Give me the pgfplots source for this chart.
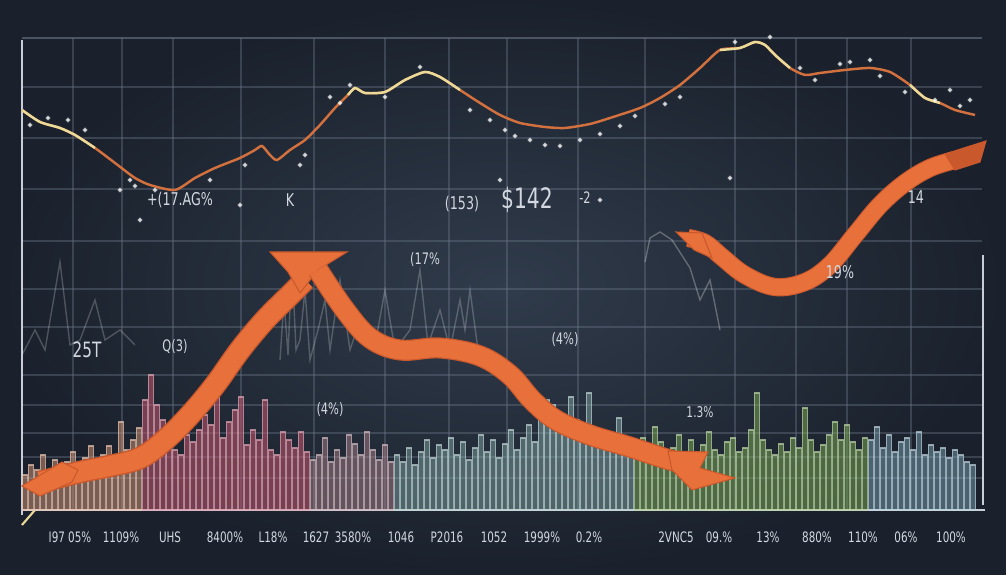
\documentclass[border=0pt]{standalone}
\usepackage{pgfplots}
\pgfplotsset{compat=1.18}
\usepackage{fontspec}
\setmainfont{DejaVu Sans}[FakeStretch=0.85]
\newfontfamily\labfont{DejaVu Sans}[FakeStretch=0.72]
\definecolor{bgin}{HTML}{303B4B}
\definecolor{bgout}{HTML}{1A212C}
\definecolor{gridc}{HTML}{6A7586}
\definecolor{axc}{HTML}{C9CED6}
\definecolor{labc}{HTML}{D3D8E0}
\definecolor{rib}{HTML}{E8703A}
\definecolor{ribd}{HTML}{C9582C}
\definecolor{cream}{HTML}{EADB9A}
\definecolor{lineor}{HTML}{D2703E}
\definecolor{peach}{HTML}{D99A78}
\definecolor{redb}{HTML}{C4566F}
\definecolor{mauve}{HTML}{A98089}
\definecolor{teal}{HTML}{88B0AE}
\definecolor{greenb}{HTML}{7FAE55}
\definecolor{blueb}{HTML}{86B0C2}
\begin{document}
\begin{tikzpicture}
\begin{axis}[
  scale only axis, width=10.06cm, height=5.75cm,
  xmin=0, xmax=1006, ymin=-65, ymax=510,
  axis line style={draw=none}, xtick=\empty, ytick=\empty,
  axis background/.style={inner color=bgin, outer color=bgout},
  clip=true,
]
% grid
\pgfplotsinvokeforeach{73,122,173,241,314,385,449,507,578,645,735,796,847,911}{
  \addplot[gridc, line width=0.3pt, opacity=0.4, forget plot] coordinates {(#1,0) (#1,472)};
}
\pgfplotsinvokeforeach{423,372,321,269,221,183,135,105,77,53,32}{
  \addplot[gridc, line width=0.3pt, opacity=0.4, forget plot] coordinates {(22,#1) (982,#1)};
}
\addplot[gridc, line width=0.3pt, opacity=0.6] coordinates {(22,472) (982,472)};
% faint spiky traces
\addplot[white, opacity=0.22, line width=0.4pt] table[row sep=\\, x=px, y expr=510-\thisrow{py}] {
px py\\ 280 360\\ 284 300\\ 288 355\\ 292 262\\ 296 350\\ 300 340\\ 305 290\\ 310 360\\ 318 330\\ 325 300\\ 330 350\\ 340 280\\ 350 350\\ 360 320\\ 375 345\\ 385 290\\ 395 350\\ 410 330\\ 420 270\\ 428 345\\ 440 310\\ 450 350\\ 460 300\\ 465 330\\ 470 290\\ 478 350\\};
\addplot[white, opacity=0.22, line width=0.4pt] table[row sep=\\, x=px, y expr=510-\thisrow{py}] {
px py\\ 22 355\\ 35 330\\ 45 350\\ 60 262\\ 70 345\\ 80 340\\ 95 300\\ 105 340\\ 120 330\\ 135 345\\};
\addplot[white, opacity=0.28, line width=0.4pt] table[row sep=\\, x=px, y expr=510-\thisrow{py}] {
px py\\ 645 262\\ 650 238\\ 660 232\\ 672 240\\ 690 268\\ 700 300\\ 710 280\\ 720 330\\};
% axes lines
\addplot[axc, line width=0.5pt] coordinates {(22,-5) (22,470)};
\addplot[axc, line width=0.5pt] coordinates {(22,0) (985,0)};
\addplot[axc, line width=0.5pt] coordinates {(983,5) (983,255)};
\addplot[cream, line width=0.6pt] coordinates {(22,-15) (35,0)};
% bars
\addplot[ybar, bar width=5, bar shift=0pt, fill=peach, fill opacity=0.5, draw=peach!55!white, draw opacity=0.7, line width=0.3pt] table[row sep=\\] {
x h\\ 25 35\\ 31 45\\ 37 40\\ 43 55\\ 49 38\\ 55 50\\ 61 42\\ 67 48\\ 73 58\\ 79 44\\ 85 52\\ 91 64\\ 97 47\\ 103 55\\ 109 64\\ 115 50\\ 121 88\\ 127 60\\ 133 70\\ 139 82\\};
\addplot[ybar, bar width=5, bar shift=0pt, fill=redb, fill opacity=0.55, draw=redb!50!white, draw opacity=0.7, line width=0.3pt] table[row sep=\\] {
x h\\ 145 110\\ 151 135\\ 157 105\\ 163 90\\ 169 70\\ 175 60\\ 181 55\\ 187 75\\ 193 68\\ 199 80\\ 205 95\\ 211 85\\ 217 120\\ 223 72\\ 229 88\\ 235 100\\ 241 113\\ 247 65\\ 253 80\\ 259 70\\ 265 110\\ 271 60\\ 277 55\\ 283 78\\ 289 70\\ 295 62\\ 301 78\\ 307 58\\};
\addplot[ybar, bar width=5, bar shift=0pt, fill=mauve, fill opacity=0.5, draw=mauve!50!white, draw opacity=0.7, line width=0.3pt] table[row sep=\\] {
x h\\ 313 50\\ 319 55\\ 325 72\\ 331 48\\ 337 60\\ 343 52\\ 349 75\\ 355 66\\ 361 55\\ 367 78\\ 373 60\\ 379 50\\ 385 65\\ 391 48\\};
\addplot[ybar, bar width=5, bar shift=0pt, fill=teal, fill opacity=0.45, draw=teal!50!white, draw opacity=0.7, line width=0.3pt] table[row sep=\\] {
x h\\ 397 55\\ 403 48\\ 409 62\\ 415 45\\ 421 58\\ 427 70\\ 433 52\\ 439 65\\ 445 60\\ 451 72\\ 457 55\\ 463 68\\ 469 50\\ 475 62\\ 481 75\\ 487 58\\ 493 70\\ 499 52\\ 505 66\\ 511 80\\ 517 60\\ 523 72\\ 529 85\\ 535 68\\ 541 95\\ 547 110\\ 553 105\\ 559 88\\ 565 75\\ 571 113\\ 577 90\\ 583 70\\ 589 117\\ 595 65\\ 601 80\\ 607 72\\ 613 60\\ 619 92\\ 625 70\\ 631 58\\};
\addplot[ybar, bar width=5, bar shift=0pt, fill=greenb, fill opacity=0.5, draw=greenb!50!white, draw opacity=0.7, line width=0.3pt] table[row sep=\\] {
x h\\ 637 60\\ 643 72\\ 649 55\\ 655 83\\ 661 68\\ 667 50\\ 673 62\\ 679 75\\ 685 58\\ 691 70\\ 697 52\\ 703 65\\ 709 78\\ 715 60\\ 721 55\\ 727 68\\ 733 72\\ 739 58\\ 745 62\\ 751 80\\ 757 117\\ 763 70\\ 769 60\\ 775 55\\ 781 66\\ 787 58\\ 793 72\\ 799 62\\ 805 102\\ 811 70\\ 817 58\\ 823 65\\ 829 75\\ 835 88\\ 841 70\\ 847 85\\ 853 68\\ 859 60\\ 865 72\\};
\addplot[ybar, bar width=5, bar shift=0pt, fill=blueb, fill opacity=0.45, draw=blueb!50!white, draw opacity=0.7, line width=0.3pt] table[row sep=\\] {
x h\\ 871 70\\ 877 83\\ 883 62\\ 889 75\\ 895 58\\ 901 68\\ 907 72\\ 913 60\\ 919 78\\ 925 55\\ 931 65\\ 937 58\\ 943 62\\ 949 52\\ 955 60\\ 961 55\\ 967 48\\ 973 45\\};
% top line
\addplot[lineor, line width=0.7pt, smooth, tension=0.4] table[row sep=\\, x=px, y expr=510-\thisrow{py}] {
px py\\ 22 110\\ 40 122\\ 60 128\\ 75 135\\ 95 148\\ 115 163\\ 135 178\\ 150 185\\ 175 190\\ 195 178\\ 215 168\\ 240 158\\ 255 150\\ 262 146\\ 270 155\\ 277 160\\ 290 150\\ 305 140\\ 320 125\\ 335 108\\ 348 95\\ 355 88\\ 365 93\\ 385 92\\ 405 80\\ 425 72\\ 440 77\\ 460 90\\ 480 103\\ 500 115\\ 520 123\\ 545 127\\ 565 128\\ 590 124\\ 610 118\\ 640 108\\ 660 98\\ 680 85\\ 700 68\\ 720 50\\ 740 48\\ 755 42\\ 765 45\\ 775 55\\ 790 68\\ 805 75\\ 820 73\\ 845 70\\ 870 68\\ 890 72\\ 910 85\\ 925 98\\ 940 103\\ 955 110\\ 975 115\\};
\addplot[cream, line width=0.7pt, smooth, tension=0.4] table[row sep=\\, x=px, y expr=510-\thisrow{py}] {
px py\\ 22 110\\ 40 122\\ 60 128\\ 75 135\\ 95 148\\};
\addplot[cream, line width=0.7pt, smooth, tension=0.4] table[row sep=\\, x=px, y expr=510-\thisrow{py}] {
px py\\ 348 95\\ 355 88\\ 365 93\\ 385 92\\ 405 80\\ 425 72\\ 440 77\\ 460 90\\};
\addplot[cream, line width=0.7pt, smooth, tension=0.4] table[row sep=\\, x=px, y expr=510-\thisrow{py}] {
px py\\ 720 50\\ 740 48\\ 755 42\\ 765 45\\ 775 55\\ 790 68\\};
\addplot[cream, line width=0.7pt, smooth, tension=0.4] table[row sep=\\, x=px, y expr=510-\thisrow{py}] {
px py\\ 910 85\\ 925 98\\ 940 103\\};
% scattered dots
\addplot[only marks, mark=*, mark size=0.45pt, white, opacity=0.6] table[row sep=\\, x=px, y expr=510-\thisrow{py}] {
px py\\ 30 125\\ 48 118\\ 68 120\\ 85 130\\ 130 180\\ 135 186\\ 155 190\\ 210 180\\ 245 165\\ 300 165\\ 305 155\\ 330 97\\ 340 103\\ 350 85\\ 385 97\\ 420 67\\ 470 110\\ 490 120\\ 505 130\\ 515 136\\ 530 140\\ 545 145\\ 560 146\\ 580 140\\ 600 134\\ 620 126\\ 635 116\\ 665 104\\ 680 97\\ 735 42\\ 770 37\\ 800 68\\ 815 80\\ 840 64\\ 850 62\\ 870 60\\ 880 76\\ 905 92\\ 935 100\\ 950 90\\ 960 106\\ 970 100\\ 120 190\\ 240 205\\ 600 200\\ 730 178\\ 140 220\\ 500 180\\};
% ribbons
\addplot[ribd, line width=6.4pt, smooth, tension=0.6, line cap=butt] table[row sep=\\, x=px, y expr=510-\thisrow{py}] {
px py\\ 40 482\\ 80 472\\ 110 466\\ 140 458\\ 165 440\\ 190 415\\ 215 385\\ 240 350\\ 265 320\\ 290 295\\ 305 280\\};
\addplot[rib, line width=5.6pt, smooth, tension=0.6, line cap=butt] table[row sep=\\, x=px, y expr=510-\thisrow{py}] {
px py\\ 40 482\\ 80 472\\ 110 466\\ 140 458\\ 165 440\\ 190 415\\ 215 385\\ 240 350\\ 265 320\\ 290 295\\ 305 280\\};
\addplot[fill=rib, draw=ribd, line width=0.3pt] table[row sep=\\, x=px, y expr=510-\thisrow{py}] {
px py\\ 22 486\\ 62 462\\ 78 470\\ 72 482\\ 40 496\\} -- cycle;
\addplot[fill=rib, draw=ribd, line width=0.3pt] table[row sep=\\, x=px, y expr=510-\thisrow{py}] {
px py\\ 270 252\\ 347 252\\ 318 270\\ 300 293\\ 288 272\\} -- cycle;
\addplot[ribd, line width=6pt, smooth, tension=0.6, line cap=butt] table[row sep=\\, x=px, y expr=510-\thisrow{py}] {
px py\\ 318 270\\ 345 310\\ 370 338\\ 400 350\\ 440 348\\ 480 356\\ 510 375\\ 532 400\\ 556 420\\ 590 435\\ 630 447\\ 670 460\\ 695 465\\};
\addplot[rib, line width=5.3pt, smooth, tension=0.6, line cap=butt] table[row sep=\\, x=px, y expr=510-\thisrow{py}] {
px py\\ 318 270\\ 345 310\\ 370 338\\ 400 350\\ 440 348\\ 480 356\\ 510 375\\ 532 400\\ 556 420\\ 590 435\\ 630 447\\ 670 460\\ 695 465\\};
\addplot[fill=rib, draw=ribd, line width=0.3pt] table[row sep=\\, x=px, y expr=510-\thisrow{py}] {
px py\\ 668 451\\ 708 452\\ 700 468\\ 735 478\\ 692 490\\ 672 470\\} -- cycle;
\addplot[ribd, line width=5.2pt, smooth, tension=0.6, line cap=butt] table[row sep=\\, x=px, y expr=510-\thisrow{py}] {
px py\\ 688 238\\ 705 243\\ 722 257\\ 745 275\\ 775 287\\ 805 282\\ 830 265\\ 855 235\\ 880 205\\ 905 183\\ 930 168\\ 955 160\\};
\addplot[rib, line width=4.6pt, smooth, tension=0.6, line cap=butt] table[row sep=\\, x=px, y expr=510-\thisrow{py}] {
px py\\ 688 238\\ 705 243\\ 722 257\\ 745 275\\ 775 287\\ 805 282\\ 830 265\\ 855 235\\ 880 205\\ 905 183\\ 930 168\\ 955 160\\};
\addplot[fill=rib, draw=ribd, line width=0.3pt] table[row sep=\\, x=px, y expr=510-\thisrow{py}] {
px py\\ 676 232\\ 702 233\\ 712 258\\ 694 250\\} -- cycle;
\addplot[fill=ribd, draw=ribd, line width=0.3pt] table[row sep=\\, x=px, y expr=510-\thisrow{py}] {
px py\\ 945 154\\ 986 141\\ 980 162\\ 955 170\\} -- cycle;
% texts
\begin{scope}[every node/.style={text=labc, font=\labfont\fontsize{4.1}{5}\selectfont, inner sep=0pt}]
\node at (axis cs:70,-27) {I97 05\%};
\node at (axis cs:121,-27) {1109\%};
\node at (axis cs:170,-27) {UHS};
\node at (axis cs:225,-27) {8400\%};
\node at (axis cs:273,-27) {L18\%};
\node at (axis cs:316,-27) {1627};
\node at (axis cs:353,-27) {3580\%};
\node at (axis cs:401,-27) {1046};
\node at (axis cs:447,-27) {P2016};
\node at (axis cs:494,-27) {1052};
\node at (axis cs:542,-27) {1999\%};
\node at (axis cs:589,-27) {0.2\%};
\node at (axis cs:676,-27) {2VNC5};
\node at (axis cs:719,-27) {09.\%};
\node at (axis cs:768,-27) {13\%};
\node at (axis cs:817,-27) {880\%};
\node at (axis cs:863,-27) {110\%};
\node at (axis cs:906,-27) {06\%};
\node at (axis cs:951,-27) {100\%};
\node[font=\labfont\fontsize{6}{7}\selectfont] at (axis cs:87,160) {25T};
\node[font=\labfont\fontsize{4.5}{5}\selectfont] at (axis cs:175,163) {Q(3)};
\node[font=\labfont\fontsize{5}{6}\selectfont] at (axis cs:180,310) {+(17.AG\%};
\node[font=\labfont\fontsize{5}{6}\selectfont] at (axis cs:290,310) {K};
\node[font=\labfont\fontsize{5}{6}\selectfont] at (axis cs:462,306) {(153)};
\node[font=\labfont\fontsize{8}{9}\selectfont] at (axis cs:527,310) {\$142};
\node[font=\labfont\fontsize{4.5}{5}\selectfont] at (axis cs:585,312) {-2};
\node[font=\labfont\fontsize{5}{6}\selectfont] at (axis cs:916,313) {14};
\node[font=\labfont\fontsize{5}{6}\selectfont] at (axis cs:840,238) {19\%};
\node[font=\labfont\fontsize{4.5}{5}\selectfont] at (axis cs:425,250) {(17\%};
\node[font=\labfont\fontsize{4.5}{5}\selectfont] at (axis cs:565,170) {(4\%)};
\node[font=\labfont\fontsize{4.5}{5}\selectfont] at (axis cs:330,100) {(4\%)};
\node[font=\labfont\fontsize{4.2}{5}\selectfont] at (axis cs:700,98) {1.3\%};
\end{scope}
\end{axis}
\end{tikzpicture}
\end{document}
